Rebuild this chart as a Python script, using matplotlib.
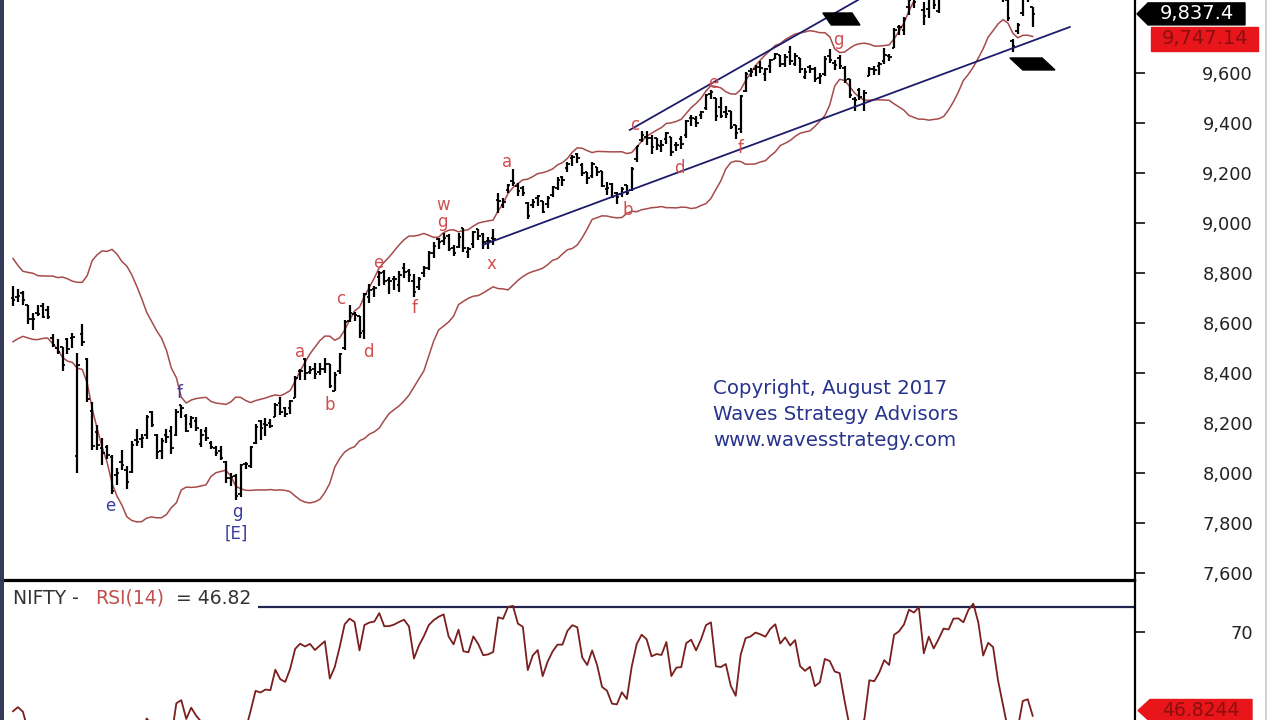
import numpy as np
import pandas as pd
import matplotlib
matplotlib.use("Agg")
import matplotlib.pyplot as plt
from matplotlib.patches import Polygon, Rectangle

# ---------------- data (NIFTY daily, 21 Oct 2016 - 18 Aug 2017) ----------------
warmup_close = [8777, 8867, 8831, 8723, 8706, 8745, 8591, 8611, 8738, 8769,
                8743, 8709, 8697, 8708, 8573, 8583, 8520, 8677, 8659, 8699]

bar_open = [
    8700, 8705, 8719, 8672, 8617, 8640, 8670,
    8653, 8542, 8499, 8503, 8535, 8541, 8067, 8555, 8456, 8247, 8164, 8102, 8105, 8064, 7992, 8043, 8012, 8003, 8133, 8136, 8151,
    8244, 8153, 8089, 8153, 8168, 8152, 8271, 8230, 8196, 8210, 8115, 8170, 8120, 8100, 8090, 8045, 7980, 7990, 7915, 8038, 8030, 8120,
    8210, 8196, 8202, 8226, 8282, 8260, 8262, 8300, 8407, 8457, 8404, 8415, 8403, 8418, 8435, 8329, 8408, 8499, 8610, 8636, 8630,
    8570, 8706, 8736, 8785, 8805, 8774, 8775, 8754, 8820, 8810, 8770, 8746, 8800, 8822, 8880, 8935, 8930, 8950, 8900,
    8904, 8982, 8883, 8916, 8977, 8956, 8930, 8941, 9092, 9072, 9132, 9170, 9150, 9142, 9080, 9071, 9100, 9090, 9075, 9113, 9140, 9185,
    9221, 9260, 9275, 9234, 9205, 9187, 9225, 9207, 9137, 9155, 9121, 9115, 9153, 9133, 9257, 9332, 9345, 9342,
    9339, 9307, 9338, 9343, 9313, 9335, 9351, 9419, 9418, 9433, 9461, 9517, 9500, 9465, 9444, 9448, 9394, 9375, 9528, 9610, 9616, 9624,
    9597, 9629, 9657, 9671, 9636, 9684, 9636, 9662, 9583, 9623, 9616, 9579, 9597, 9667, 9640, 9660, 9621, 9575, 9497, 9531, 9478,
    9587, 9617, 9628, 9648, 9668, 9699, 9784, 9771, 9866, 9903, 9905, 9853, 9855, 9918, 9850, 9948, 9985, 9962, 10031, 10030, 10044,
    10101, 10114, 10078, 10022, 10075, 10076, 9968, 9895, 9728, 9768, 9839, 9920, 9863]

bar_high = [
    8750, 8736, 8727, 8674, 8642, 8671, 8680,
    8669, 8556, 8537, 8504, 8539, 8560, 8480, 8598, 8460, 8285, 8194, 8142, 8113, 8072, 8019, 8094, 8030, 8127, 8178, 8156, 8232,
    8250, 8155, 8141, 8178, 8190, 8257, 8274, 8236, 8228, 8225, 8175, 8185, 8130, 8110, 8110, 8050, 8000, 7995, 8035, 8045, 8110, 8195,
    8212, 8219, 8218, 8282, 8306, 8263, 8294, 8389, 8417, 8462, 8427, 8440, 8440, 8461, 8435, 8403, 8482, 8611, 8672, 8644, 8630,
    8720, 8758, 8750, 8809, 8813, 8786, 8790, 8808, 8840, 8818, 8795, 8784, 8830, 8887, 8925, 8940, 8960, 8955, 8914,
    8960, 8982, 8906, 8968, 8977, 8960, 8945, 8975, 9122, 9099, 9158, 9218, 9159, 9149, 9083, 9098, 9113, 9090, 9110, 9150, 9185, 9190,
    9245, 9274, 9281, 9239, 9206, 9245, 9225, 9207, 9163, 9161, 9123, 9145, 9153, 9226, 9310, 9367, 9368, 9352,
    9339, 9333, 9365, 9345, 9324, 9350, 9413, 9434, 9429, 9449, 9517, 9533, 9502, 9505, 9469, 9449, 9394, 9513, 9604, 9620, 9633, 9650,
    9622, 9656, 9679, 9674, 9677, 9710, 9682, 9662, 9619, 9634, 9626, 9599, 9667, 9698, 9652, 9673, 9630, 9578, 9505, 9541, 9531,
    9624, 9630, 9644, 9700, 9675, 9782, 9793, 9824, 9897, 9913, 9928, 9884, 9904, 9924, 9926, 9982, 10011, 10026, 10114, 10066, 10084,
    10128, 10137, 10087, 10075, 10085, 10077, 9983, 9896, 9736, 9802, 9903, 9947, 9865]

bar_low = [
    8670, 8683, 8671, 8595, 8573, 8630, 8620,
    8615, 8506, 8476, 8410, 8477, 8500, 8002, 8510, 8285, 8094, 8091, 8032, 8056, 7917, 7952, 8011, 7936, 8002, 8108, 8100, 8137,
    8185, 8057, 8057, 8121, 8077, 8148, 8220, 8165, 8180, 8167, 8105, 8130, 8095, 8070, 8052, 7960, 7950, 7894, 7905, 8015, 8020, 8116,
    8134, 8149, 8180, 8223, 8233, 8224, 8237, 8300, 8373, 8373, 8397, 8378, 8393, 8402, 8340, 8329, 8398, 8493, 8606, 8609, 8542,
    8537, 8680, 8704, 8750, 8754, 8715, 8734, 8724, 8782, 8764, 8705, 8733, 8783, 8813, 8862, 8898, 8911, 8887, 8868,
    8899, 8885, 8860, 8899, 8932, 8898, 8898, 8914, 9042, 9061, 9119, 9147, 9107, 9108, 9016, 9059, 9070, 9040, 9062, 9106, 9133, 9147,
    9206, 9229, 9242, 9188, 9158, 9179, 9187, 9146, 9112, 9102, 9075, 9105, 9113, 9130, 9245, 9323, 9314, 9276,
    9291, 9284, 9318, 9269, 9289, 9297, 9340, 9387, 9386, 9415, 9452, 9495, 9408, 9420, 9420, 9375, 9336, 9359, 9525, 9583, 9588, 9602,
    9569, 9601, 9655, 9626, 9626, 9633, 9627, 9602, 9576, 9601, 9563, 9556, 9587, 9641, 9611, 9617, 9560, 9500, 9448, 9493, 9448,
    9587, 9593, 9591, 9638, 9647, 9699, 9754, 9753, 9833, 9861, 9902, 9792, 9820, 9858, 9839, 9934, 9949, 9962, 10007, 9979, 10044,
    10072, 10073, 10003, 9991, 10037, 9968, 9885, 9807, 9686, 9755, 9830, 9883, 9783]

bar_close = [
    8693, 8709, 8691, 8615, 8615, 8638, 8625,
    8626, 8514, 8484, 8433, 8497, 8544, 8432, 8525, 8297, 8108, 8111, 8079, 8074, 7929, 8002, 8033, 7965, 8114, 8126, 8142, 8224,
    8192, 8086, 8128, 8143, 8102, 8246, 8261, 8170, 8221, 8182, 8153, 8139, 8104, 8082, 8061, 7980, 7986, 7909, 8032, 8035, 8103, 8186,
    8180, 8192, 8190, 8273, 8244, 8236, 8288, 8380, 8407, 8400, 8412, 8398, 8417, 8435, 8349, 8391, 8476, 8603, 8641, 8633, 8561,
    8716, 8734, 8741, 8801, 8768, 8769, 8778, 8793, 8805, 8792, 8724, 8778, 8821, 8879, 8907, 8926, 8939, 8896, 8880,
    8945, 8899, 8897, 8963, 8947, 8924, 8927, 8935, 9087, 9084, 9153, 9160, 9127, 9121, 9030, 9086, 9108, 9045, 9100, 9143, 9174, 9174,
    9237, 9266, 9262, 9199, 9182, 9237, 9204, 9150, 9140, 9106, 9104, 9136, 9120, 9217, 9307, 9352, 9342, 9304,
    9313, 9311, 9360, 9285, 9314, 9316, 9407, 9422, 9400, 9445, 9512, 9526, 9429, 9427, 9438, 9386, 9360, 9510, 9595, 9604, 9625, 9621,
    9616, 9653, 9675, 9637, 9663, 9647, 9668, 9616, 9606, 9618, 9578, 9588, 9657, 9653, 9633, 9630, 9574, 9511, 9491, 9504, 9520,
    9615, 9613, 9637, 9674, 9665, 9771, 9786, 9816, 9891, 9886, 9915, 9827, 9899, 9873, 9915, 9966, 9964, 10020, 10021, 10014, 10077,
    10114, 10081, 10013, 10066, 10057, 9978, 9908, 9820, 9710, 9794, 9897, 9904, 9837.4]

price_ticks = [7600, 7800, 8000, 8200, 8400, 8600, 8800, 9000, 9200, 9400, 9600]
rsi_ticks = [70]
rsi_guide_level = 76.8
last_close_label = 9837.4
lower_band_label = 9747.14
rsi_last_label = 46.8244

# wave labels: text, bar index, price, colour key
wave_text = ["a", "b", "c", "d", "e", "f", "w", "g", "x", "a", "b", "c", "d", "e", "f", "g",
             "e", "f", "g", "[E]"]
wave_bar = [58.0, 64.0, 66.3, 71.7, 73.7, 81.2, 86.9, 86.7, 96.6, 99.8, 124.2, 125.5, 134.7, 141.4, 146.9, 166.7,
            19.6, 33.7, 45.3, 45.1]
wave_price = [8485, 8273, 8697, 8485, 8841, 8661, 9073, 9005, 8837, 9245, 9053, 9393, 9221, 9561, 9301, 9733,
              7869, 8321, 7845, 7757]
wave_kind = ["r"] * 16 + ["b"] * 4

# trend lines (bar index, price)
lower_tl_bar = [94.9, 213.5]
lower_tl_price = [8913, 9785]
upper_tl_bar = [124.6, 170.7]
upper_tl_price = [9373, 9893]

# ---------------- indicators ----------------
n_warm = len(warmup_close)
all_close = pd.Series(warmup_close + bar_close, dtype=float)
mid = all_close.rolling(20).mean()
sd = all_close.rolling(20).std(ddof=0)
bb_up = (mid + 2 * sd).values[n_warm:]
bb_lo = (mid - 2 * sd).values[n_warm:]

# Wilder RSI(14), seeded with simple averages of the first 14 changes
cv = all_close.values
ch = np.diff(cv)
g = np.clip(ch, 0, None)
l = np.clip(-ch, 0, None)
ag = np.full(len(cv), np.nan)
al = np.full(len(cv), np.nan)
ag[14] = g[:14].mean()
al[14] = l[:14].mean()
for i in range(15, len(cv)):
    ag[i] = (ag[i - 1] * 13 + g[i - 1]) / 14
    al[i] = (al[i - 1] * 13 + l[i - 1]) / 14
rsi = (100 - 100 / (1 + ag / al))[n_warm:]

idx = np.arange(len(bar_close))

# ---------------- figure ----------------
W, H = 1280, 720
fig = plt.figure(figsize=(12.8, 7.2), dpi=100)
fig.patch.set_facecolor("white")


def fx(px):
    return px / W


def fy(py):
    return 1 - py / H


x0_px, step_px = 13.0, 4.95
left_px, right_px = 5, 1135
xlim = ((left_px - x0_px) / step_px, (right_px - x0_px) / step_px)

ax = fig.add_axes([fx(left_px), fy(580), fx(right_px - left_px), 580 / H])
ax2 = fig.add_axes([fx(left_px), 0, fx(right_px - left_px), 139 / H])

ax.set_xlim(*xlim)
ax.set_ylim(7572, 9893)
ax2.set_xlim(*xlim)
ax2.set_ylim(45.69, 84.09)

for a in (ax, ax2):
    a.set_facecolor("white")
    a.spines["left"].set_visible(False)
    a.spines["right"].set_color("black")
    a.spines["right"].set_linewidth(1.6)
    a.xaxis.set_visible(False)
    a.yaxis.tick_right()
    a.tick_params(axis="y", direction="out", length=7.2, width=1.3, pad=77.8,
                  labelsize=12.8, colors="#222222")
ax.spines["top"].set_visible(False)
ax.spines["bottom"].set_linewidth(1.6)
ax2.spines["bottom"].set_visible(False)
ax2.spines["top"].set_linewidth(1.6)

ax.set_yticks(price_ticks)
ax.set_yticklabels([f"{v:,}" for v in price_ticks])
ax2.set_yticks(rsi_ticks)
ax2.set_yticklabels([f"{v}" for v in rsi_ticks])
for a in (ax, ax2):
    for lab in a.get_yticklabels():
        lab.set_horizontalalignment("right")

# OHLC bars
ax.vlines(idx, bar_low, bar_high, color="black", lw=1.6, zorder=3)
ax.hlines(bar_open, idx - 0.5, idx, color="black", lw=1.3, zorder=3)
ax.hlines(bar_close, idx, idx + 0.5, color="black", lw=1.3, zorder=3)

# Bollinger bands
band_col = "#a64b4b"
ax.plot(idx, bb_up, color=band_col, lw=1.1, zorder=2)
ax.plot(idx, bb_lo, color=band_col, lw=1.1, zorder=2)

# trend lines
tl_col = "#1c1c6a"
ax.plot(lower_tl_bar, lower_tl_price, color=tl_col, lw=1.3, zorder=4)
ax.plot(upper_tl_bar, upper_tl_price, color=tl_col, lw=1.3, zorder=4)

# black arrow-like markers
mk1 = [(163.6, 9841), (169.5, 9841), (171.1, 9793), (165.3, 9793)]
mk2 = [(201.4, 9661), (207.9, 9661), (210.5, 9613), (204.0, 9613)]
for mk in (mk1, mk2):
    ax.add_patch(Polygon(mk, closed=True, facecolor="black", edgecolor="black", zorder=5))

# wave labels
col_map = {"r": "#cf4f4f", "b": "#3b3ba0"}
for t, b, p, k in zip(wave_text, wave_bar, wave_price, wave_kind):
    ax.text(b, p, t, color=col_map[k], fontsize=12, ha="center", va="center", zorder=6)

# copyright
cp_col = "#27348c"
for i, line in enumerate(["Copyright, August 2017", "Waves Strategy Advisors", "www.wavesstrategy.com"]):
    fig.text(fx(713), fy(389 + 25.5 * i), line, color=cp_col, fontsize=14.2, ha="left", va="center")

# RSI panel
ax2.plot(idx, rsi, color="#7a1e1e", lw=1.3, zorder=3)
guide_start = (258 - x0_px) / step_px
ax2.hlines(rsi_guide_level, guide_start, xlim[1], color="#23234f", lw=1.6, zorder=2)

fig.text(fx(13), fy(598), "NIFTY -", color="#333333", fontsize=13.5, ha="left", va="center")
fig.text(fx(95), fy(598), "RSI(14)", color="#c0504d", fontsize=13.5, ha="left", va="center")
fig.text(fx(176), fy(598), f"= {rsi_last_label:.2f}", color="#333333", fontsize=13.5, ha="left", va="center")

# ---------------- value tags ----------------
fig.canvas.draw()


def data_to_py(a, val):
    disp = a.transData.transform((0, val))
    return H - disp[1] * H / fig.bbox.height


yc = data_to_py(ax, last_close_label)
poly = [(1137, yc), (1148, yc - 11), (1245, yc - 11), (1245, yc + 11), (1148, yc + 11)]
fig.patches.append(Polygon([(fx(x), fy(y)) for x, y in poly], closed=True, transform=fig.transFigure,
                           facecolor="black", edgecolor="black", zorder=10))
fig.text(fx(1197), fy(yc), f"{last_close_label:,.1f}", color="white", fontsize=14,
         ha="center", va="center", zorder=11)

yc2 = data_to_py(ax, lower_band_label) + 2.5
fig.patches.append(Rectangle((fx(1151), fy(yc2 + 12)), fx(107), 24 / H, transform=fig.transFigure,
                             facecolor="#e8151b", edgecolor="#e8151b", zorder=10))
fig.text(fx(1205), fy(yc2), f"{lower_band_label:,.2f}", color="#8a0f0f", fontsize=14,
         ha="center", va="center", zorder=11)

yc3 = min(data_to_py(ax2, rsi_last_label), 710.5)
poly3 = [(1138, yc3), (1150, yc3 - 11), (1252, yc3 - 11), (1252, yc3 + 11), (1150, yc3 + 11)]
fig.patches.append(Polygon([(fx(x), fy(y)) for x, y in poly3], closed=True, transform=fig.transFigure,
                           facecolor="#e8151b", edgecolor="#e8151b", zorder=10))
fig.text(fx(1201), fy(yc3), f"{rsi_last_label:.4f}", color="#8a0f0f", fontsize=13.5,
         ha="center", va="center", zorder=11)

# frame decorations
fig.patches.append(Rectangle((0, 0), fx(4), 1, transform=fig.transFigure,
                             facecolor="#343a58", edgecolor="none", zorder=10))
fig.patches.append(Rectangle((fx(1265), 0), fx(2), 1, transform=fig.transFigure,
                             facecolor="#cfd3da", edgecolor="none", zorder=10))

fig.savefig("out.png", dpi=100, facecolor="white")
